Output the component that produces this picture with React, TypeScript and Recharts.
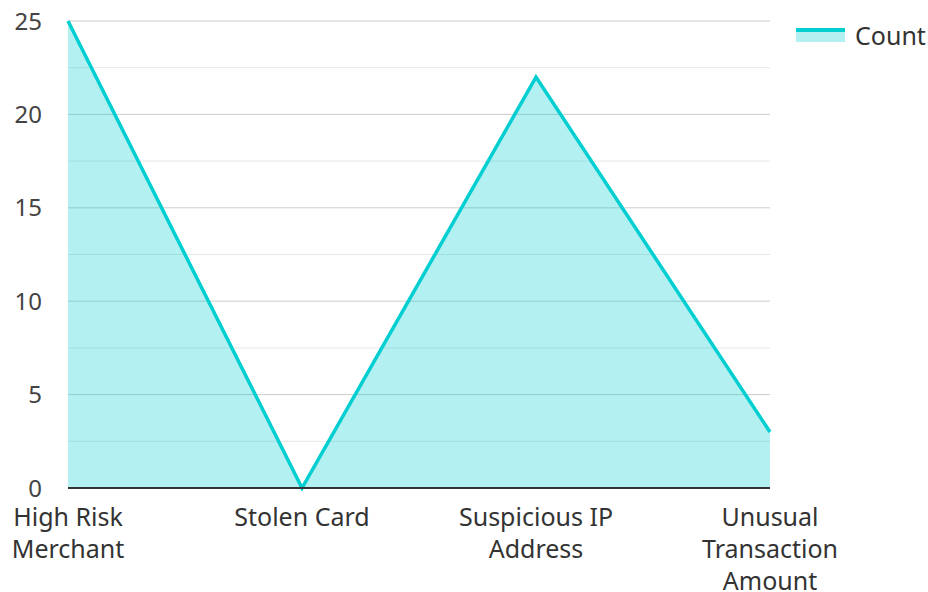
import React from 'react';
import { AreaChart, Area, XAxis, YAxis, CartesianGrid, Legend } from 'recharts';

const categories = ['High Risk Merchant', 'Stolen Card', 'Suspicious IP Address', 'Unusual Transaction Amount'];
const counts = [25, 0, 22, 3];
const gridTicks = [0, 2.5, 5, 7.5, 10, 12.5, 15, 17.5, 20, 22.5, 25];
const labelledTicks = [0, 5, 10, 15, 20, 25];
const seriesName = 'Count';

const data = categories.map((c, i) => ({ name: c, Count: counts[i] }));

const COLOR = '#00CED1';
const FONT = '"Noto Sans", "Open Sans", sans-serif';
const TICK_FONT_SIZE = 25;
const WRAP_WIDTH = 185;

let ctx: CanvasRenderingContext2D | null = null;
const measure = (s: string) => {
  if (!ctx) {
    const c = document.createElement('canvas');
    ctx = c.getContext('2d');
  }
  if (!ctx) return s.length * TICK_FONT_SIZE * 0.55;
  ctx.font = `${TICK_FONT_SIZE}px ${FONT}`;
  return ctx.measureText(s).width;
};

const wrap = (text: string): string[] => {
  const words = text.split(' ');
  const lines: string[] = [];
  let cur = '';
  words.forEach((w) => {
    const cand = cur ? cur + ' ' + w : w;
    if (cur && measure(cand) > WRAP_WIDTH) {
      lines.push(cur);
      cur = w;
    } else {
      cur = cand;
    }
  });
  if (cur) lines.push(cur);
  return lines;
};

const XTick = (props: any) => {
  const { x, y, payload } = props;
  const lines = wrap(String(payload.value));
  return (
    <text x={x} y={y} textAnchor="middle" fontSize={TICK_FONT_SIZE} fontFamily={FONT} fill="#333">
      {lines.map((l, i) => (
        <tspan key={i} x={x} dy={i === 0 ? '0.68em' : 32}>
          {l}
        </tspan>
      ))}
    </text>
  );
};

const GridLine = (props: any) => {
  const { x1, x2, y1, y2, index } = props;
  const major = index % 2 === 0;
  return <line x1={x1} x2={x2} y1={y1} y2={y2} stroke={major ? '#cccccc' : '#e6e6e6'} strokeWidth={1} fill="none" />;
};

const LegendContent = () => (
  <div style={{ display: 'flex', alignItems: 'center', paddingLeft: 6, fontFamily: FONT }}>
    <svg width={49} height={16} style={{ display: 'block' }}>
      <rect x={0} y={3} width={49} height={12} fill={COLOR} fillOpacity={0.3} />
      <line x1={0} y1={3} x2={49} y2={3} stroke={COLOR} strokeWidth={4} />
    </svg>
    <span style={{ marginLeft: 10, fontSize: 25, color: '#333', lineHeight: '32px' }}>{seriesName}</span>
  </div>
);

export default function App() {
  return (
    <div style={{ position: 'absolute', left: 0, top: 0, fontFamily: FONT }}>
      <AreaChart width={928} height={592} data={data} margin={{ top: 21, right: 20, bottom: 0, left: 0 }}>
        <CartesianGrid vertical={false} horizontal={(p: any) => <GridLine {...p} />} />
        <XAxis
          dataKey="name"
          interval={0}
          tickLine={false}
          axisLine={{ stroke: '#333', strokeWidth: 2 }}
          tickMargin={15}
          height={104}
          tick={<XTick />}
        />
        <YAxis
          domain={[0, 25]}
          ticks={gridTicks}
          interval={0}
          width={68}
          axisLine={false}
          tickLine={false}
          tickMargin={20}
          tickFormatter={(v: number) => (labelledTicks.includes(v) ? String(v) : '')}
          tick={{ fontSize: 24, fill: '#444', fontFamily: FONT }}
        />
        <Legend
          layout="vertical"
          align="right"
          verticalAlign="top"
          wrapperStyle={{ width: 138, right: 0, top: 19 }}
          content={<LegendContent />}
        />
        <Area
          type="linear"
          dataKey="Count"
          name={seriesName}
          stroke={COLOR}
          strokeWidth={3.5}
          fill={COLOR}
          fillOpacity={0.3}
          dot={false}
          activeDot={false}
          isAnimationActive={false}
        />
      </AreaChart>
    </div>
  );
}
